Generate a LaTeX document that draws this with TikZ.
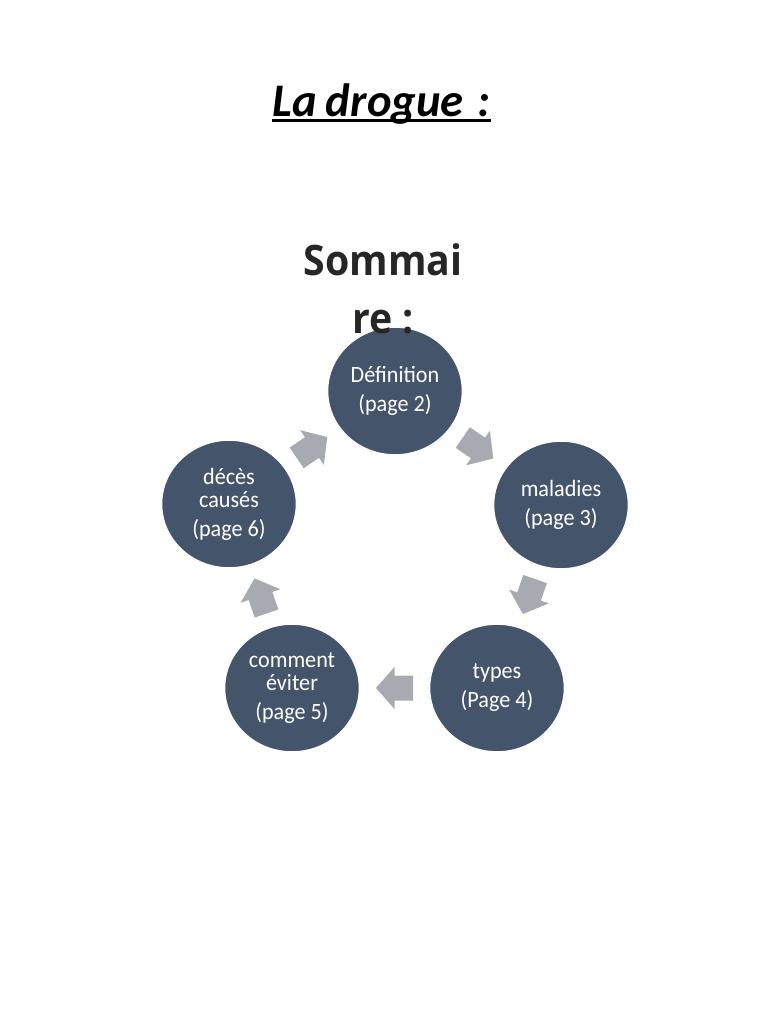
\documentclass[tikz,border=0pt]{standalone}
\usepackage{fontspec}
\usetikzlibrary{shapes.geometric}
\newfontfamily\carl{Carlito}[FakeStretch=0.95]
\newfontfamily\carlbi{Carlito}
\newfontfamily\opensans{Open Sans}[FakeStretch=0.935]
\definecolor{circ}{HTML}{44546A}
\definecolor{arr}{HTML}{A7AAB1}
\definecolor{somm}{HTML}{262626}
\begin{document}
\begin{tikzpicture}[x=0.75pt,y=-0.75pt,
  bubble/.style={ellipse, fill=circ, draw=white, line width=1.2pt, minimum width=101.25pt, minimum height=96pt, inner sep=0pt, text=white, align=center, font=\carl\fontsize{17.5}{17.25}\selectfont},
  flowarrow/.pic={\fill[arr] (-18.5,-12.5) -- (0,-12.5) -- (0,-21) -- (18.5,0) -- (0,21) -- (0,12.5) -- (-18.5,12.5) -- cycle;},
  titlestyle/.style={inner sep=0pt, anchor=base, font=\carlbi\bfseries\itshape\fontsize{35}{40}\selectfont},
  sommstyle/.style={inner sep=0pt, text=somm, align=center, font=\opensans\bfseries\fontsize{31.5}{43.5}\selectfont}
]
\fill[white] (0,0) rectangle (768,1024);
\useasboundingbox (0,0) rectangle (768,1024);

\node[titlestyle] (title) at (381.5,116) {La\hspace{0.2em}drogue\hspace{0.3em}:};
\draw[line width=2.25pt] ([yshift=-3.5pt]title.base west) -- ([yshift=-3.5pt]title.base east);

\node[bubble] (def) at (395,391) {Définition\\[4.5pt](page 2)};
\node[bubble] (mal) at (561,505) {maladies\\[4.5pt](page 3)};
\node[bubble] (typ) at (497,688) {types\\[4.5pt](Page 4)};
\node[bubble] (com) at (292,688) {comment\\éviter\\[4.5pt](page 5)};
\node[bubble] (dec) at (229,504) {décès\\causés\\[4.5pt](page 6)};

\node[sommstyle, anchor=base] (somm) at (383,275) {Sommai};
\node[sommstyle, anchor=base] (somm2) at (383,333) {re :};

\path (def) -- (mal) pic[midway, sloped, allow upside down] {flowarrow};
\path (mal) -- (typ) pic[midway, sloped, allow upside down] {flowarrow};
\path (typ) -- (com) pic[midway, sloped, allow upside down] {flowarrow};
\path (com) -- (dec) pic[midway, sloped, allow upside down] {flowarrow};
\path (dec) -- (def) pic[midway, sloped, allow upside down] {flowarrow};
\end{tikzpicture}
\end{document}
